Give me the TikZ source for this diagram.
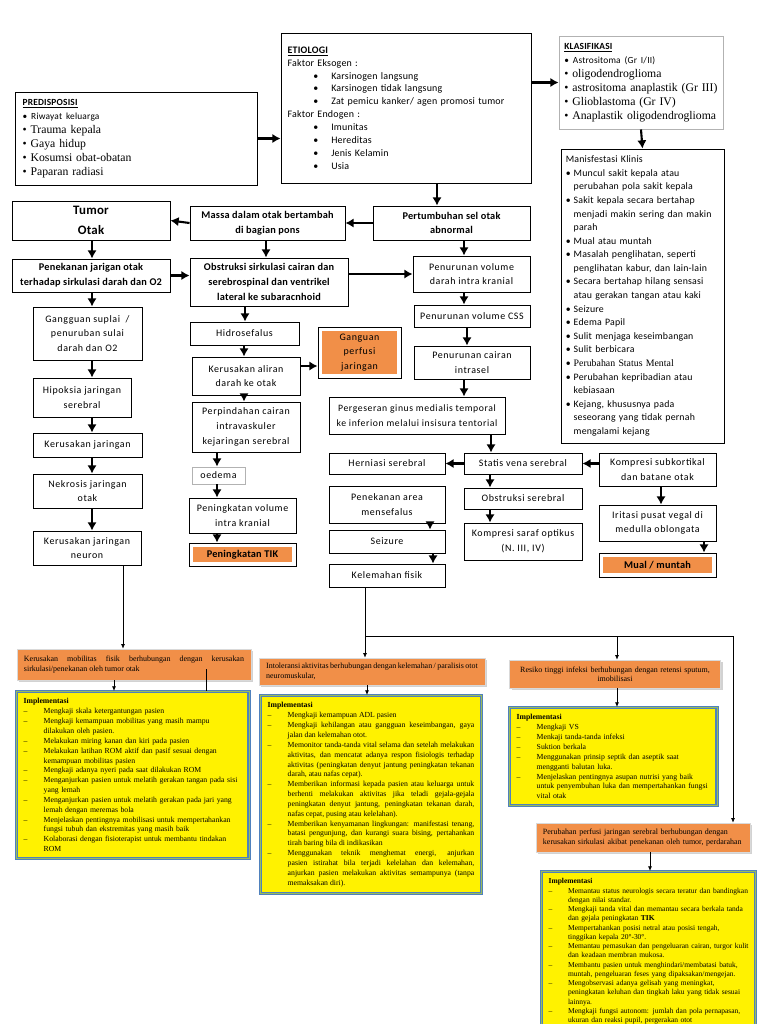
\documentclass[tikz,border=0pt]{standalone}
\usepackage{fontspec}
\setmainfont{Liberation Serif}
\newfontfamily\carl[LetterSpace=6]{Carlito}
\newfontfamily\carlb[LetterSpace=2]{Carlito}
\usetikzlibrary{arrows.meta,shadows}
\definecolor{oranye}{RGB}{241,143,72}
\definecolor{biru}{RGB}{79,129,189}
\definecolor{hijau}{RGB}{155,187,89}
% box from corner (x1,y1) to (x2,y2), in pixels of the page
\newcommand\kotak[7]{\node[#6, minimum width={(#4-#2)*0.03cm}, minimum height={(#5-#3)*0.03cm}] (#1) at ({(#2+#4)/2},{(#3+#5)/2}) {#7};}
\newcommand\bul{\par\hangindent=0.8em\hangafter=1\noindent\makebox[0.8em][l]{\textbullet}}
\newcommand\dsh{\par\hangindent=2.6em\hangafter=1\noindent\makebox[2.6em][l]{--}}
\begin{document}
\hyphenpenalty=10000 \exhyphenpenalty=10000
\begin{tikzpicture}[x=0.03cm,y=-0.03cm,
  kotak/.style={draw, line width=0.8pt, fill=white, inner sep=1pt, align=center, font=\carl\fontsize{8.5}{12.5}\selectfont},
  tebal/.style={kotak, font=\carlb\bfseries\fontsize{8.8}{12.5}\selectfont},
  isi/.style={tebal, path picture={\fill[oranye] ([shift={(3pt,-3pt)}]path picture bounding box.north west) rectangle ([shift={(-3pt,3pt)}]path picture bounding box.south east);}},
  daftar/.style={kotak, align=left, inner sep=4pt},
  masalah/.style={fill=oranye, draw=white!85!black, drop shadow={shadow xshift=2pt, shadow yshift=-2pt, fill=gray!70}, font=\fontsize{6.8}{8}\selectfont, align=justify, inner xsep=6pt},
  impl/.style={fill=yellow, draw=biru, line width=1pt, double=hijau, double distance=0.8pt, font=\fontsize{6.6}{8.4}\selectfont, align=left, inner sep=6pt, anchor=north west},
  panah/.style={-{Latex[length=7pt,width=8pt]}, line width=1.8pt},
  garis/.style={-{Latex[length=4pt,width=3.5pt]}, line width=0.7pt}]
\useasboundingbox (0,0) rectangle (768,1024);

% top row
\kotak{predis}{15}{92}{257}{185}{daftar, text width=6.8cm, font=\fontsize{10}{12}\selectfont}{{\carlb\bfseries\fontsize{8}{10}\selectfont\underline{PREDISPOSISI}}\\
  {\carlb\fontsize{8}{10}\selectfont\textbullet\ Riwayat keluarga}\\ \textbullet\ Trauma kepala\\ \textbullet\ Gaya hidup\\ \textbullet\ Kosumsi obat-obatan\\ \textbullet\ Paparan radiasi}
\kotak{etio}{281}{33}{531}{183}{daftar, text width=7.1cm, font=\carlb\fontsize{8.5}{11}\selectfont}{{\bfseries\underline{ETIOLOGI}}\\ Faktor Eksogen :\\
  \hspace*{22pt}\textbullet\hspace{11pt}Karsinogen langsung\\ \hspace*{22pt}\textbullet\hspace{11pt}Karsinogen tidak langsung\\ \hspace*{22pt}\textbullet\hspace{11pt}Zat pemicu kanker/ agen promosi tumor\\
  Faktor Endogen :\\ \hspace*{22pt}\textbullet\hspace{11pt}Imunitas\\ \hspace*{22pt}\textbullet\hspace{11pt}Hereditas\\ \hspace*{22pt}\textbullet\hspace{11pt}Jenis Kelamin\\ \hspace*{22pt}\textbullet\hspace{11pt}Usia}
\kotak{klas}{559}{36}{723}{129}{daftar, draw=gray!60, text width=4.6cm, font=\fontsize{10}{12}\selectfont}{{\carlb\bfseries\fontsize{8}{10}\selectfont\underline{KLASIFIKASI}}\\
  {\carlb\fontsize{8}{10}\selectfont\textbullet\ Astrositoma (Gr I/II)}\\ \textbullet\ oligodendroglioma\\ \textbullet\ astrositoma anaplastik (Gr III)\\ \textbullet\ Glioblastoma (Gr IV)\\ \textbullet\ Anaplastik oligodendroglioma}
\kotak{manif}{561}{149}{724}{443}{daftar, text width=4.6cm, font=\carlb\fontsize{8.4}{11.6}\selectfont}{Manisfestasi Klinis
  \bul Muncul sakit kepala atau\newline perubahan pola sakit kepala
  \bul Sakit kepala secara bertahap\newline menjadi makin sering dan makin\newline parah
  \bul Mual atau muntah
  \bul Masalah penglihatan, seperti\newline penglihatan kabur, dan lain-lain
  \bul Secara bertahap hilang sensasi\newline atau gerakan tangan atau kaki
  \bul Seizure \bul Edema Papil \bul Sulit menjaga keseimbangan \bul Sulit berbicara
  \bul {\rmfamily Perubahan Status Mental}
  \bul Perubahan kepribadian atau\newline kebiasaan
  \bul Kejang, khususnya pada\newline seseorang yang tidak pernah\newline mengalami kejang\par}

% left column
\kotak{tumor}{12}{201}{170}{240}{tebal, font=\carlb\bfseries\fontsize{11}{17}\selectfont}{Tumor\\ Otak}
\kotak{tekan}{12}{259}{170}{292}{tebal}{Penekanan jarigan otak\\ terhadap sirkulasi darah dan O2}
\kotak{suplai}{33}{307}{142}{360}{kotak}{Gangguan suplai \ /\\ penuruban sulai\\ darah dan O2}
\kotak{hipoksia}{33}{378}{131}{417}{kotak}{Hipoksia jaringan\\ serebral}
\kotak{rusak}{33}{433}{142}{457}{kotak}{Kerusakan jaringan}
\kotak{nekrosis}{33}{474}{142}{508}{kotak}{Nekrosis jaringan\\ otak}
\kotak{neuron}{33}{531}{141}{565}{kotak}{Kerusakan jaringan\\ neuron}

% middle column
\kotak{massa}{190}{206}{345}{240}{tebal}{Massa dalam otak bertambah\\ di bagian pons}
\kotak{obs}{190}{258}{348}{306}{tebal}{Obstruksi sirkulasi cairan dan\\ serebrospinal dan ventrikel\\ lateral ke subaracnhoid}
\kotak{hidro}{190}{322}{299}{345}{kotak}{Hidrosefalus}
\kotak{perfusi}{318}{327}{401}{378}{isi, font=\carl\fontsize{8.5}{12.5}\selectfont}{Ganguan\\ perfusi\\ jaringan}
\kotak{aliran}{192}{357}{300}{395}{kotak}{Kerusakan aliran\\ darah ke otak}
\kotak{pindah}{192}{402}{300}{452}{kotak}{Perpindahan cairan\\ intravaskuler\\ kejaringan serebral}
\kotak{oedema}{192}{467}{245}{484}{kotak, draw=gray!60, align=left}{oedema}
\kotak{volik}{189}{498}{296}{533}{kotak}{Peningkatan volume\\ intra kranial}
\kotak{tik}{189}{543}{296}{566}{isi}{Peningkatan TIK}

% right part
\kotak{tumbuh}{373}{206}{530}{240}{tebal}{Pertumbuhan sel otak\\ abnormal}
\kotak{voldarah}{413}{256}{530}{292}{kotak}{Penurunan volume\\ darah intra kranial}
\kotak{css}{414}{305}{530}{327}{kotak}{Penurunan volume CSS}
\kotak{cairan}{414}{346}{530}{379}{kotak}{Penurunan cairan\\ intrasel}
\kotak{geser}{329}{397}{505}{434}{kotak, font=\carl\fontsize{8.3}{12.5}\selectfont}{Pergeseran ginus medialis temporal\\ ke inferion melalui insisura tentorial}
\kotak{hernia}{329}{453}{445}{474}{kotak}{Herniasi serebral}
\kotak{statis}{464}{453}{582}{474}{kotak}{Statis vena serebral}
\kotak{subkor}{599}{453}{716}{486}{kotak}{Kompresi subkortikal\\ dan batane otak}
\kotak{mensef}{329}{486}{445}{523}{kotak}{Penekanan area\\ mensefalus}
\kotak{obsser}{464}{488}{582}{509}{kotak}{Obstruksi serebral}
\kotak{iritasi}{599}{505}{716}{541}{kotak}{Iritasi pusat vegal di\\ medulla oblongata}
\kotak{seizure}{329}{530}{445}{553}{kotak}{Seizure}
\kotak{optikus}{464}{523}{582}{560}{kotak}{Kompresi saraf optikus\\ (N. III, IV)}
\kotak{mual}{599}{553}{716}{577}{isi}{Mual / muntah}
\kotak{lemah}{329}{564}{445}{587}{kotak}{Kelemahan fisik}

% arrows
\draw[panah] (predis.east) -- (predis.east -| etio.west);
\draw[panah] (etio.east |- klas.west) -- (klas.west);
\draw[panah] (klas.south) -- (manif.north);
\draw[panah] (etio.south -| 437,0) -- (tumbuh.north -| 437,0);
\draw[panah] (tumbuh.west) -- (massa.east);
\draw[panah] (massa.west) -- (tumor.east);
\draw[panah] (tumor.south -| 92,0) -- (tekan.north -| 92,0);
\draw[panah] (massa.south -| 266,0) -- (obs.north -| 266,0);
\draw[panah] (tekan.east) -- (tekan.east -| obs.west);
\draw[panah] (obs.east |- voldarah.west) -- (voldarah.west);
\draw[panah] (tumbuh.south -| 464,0) -- (voldarah.north -| 464,0);
\draw[panah] (voldarah.south -| 464,0) -- (css.north -| 464,0);
\draw[panah] (css.south -| 467,0) -- (cairan.north -| 467,0);
\draw[panah] (cairan.south -| 464,0) -- (geser.north -| 464,0);
\draw[panah] (geser.south -| 491,0) -- (statis.north -| 491,0);
\draw[panah] (statis.west) -- (hernia.east);
\draw[panah] (subkor.west |- statis.east) -- (statis.east);
\draw[panah] (statis.south -| 490,0) -- (obsser.north -| 490,0);
\draw[panah] (obsser.south -| 490,0) -- (optikus.north -| 490,0);
\draw[panah] (subkor.south -| 661,0) -- (iritasi.north -| 661,0);
\draw[panah] (iritasi.south -| 704,0) -- (mual.north -| 704,0);
\draw[panah] (mensef.south -| 430,0) -- (seizure.north -| 430,0);
\draw[panah] (seizure.south -| 433,0) -- (lemah.north -| 433,0);
\foreach \a/\b in {tekan/suplai, suplai/hipoksia, hipoksia/rusak, rusak/nekrosis, nekrosis/neuron}
  \draw[panah] (\a.south -| 92,0) -- (\b.north -| 92,0);
\draw[panah] (obs.south -| 245,0) -- (hidro.north -| 245,0);
\draw[panah] (hidro.south -| 244,0) -- (aliran.north -| 244,0);
\draw[panah] (aliran.east |- 0,366) -- (perfusi.west |- 0,366);
\draw[panah] (aliran.south -| 244,0) -- (pindah.north -| 244,0);
\draw[panah] (pindah.south -| 217,0) -- (oedema.north -| 217,0);
\draw[panah] (oedema.south -| 217,0) -- (volik.north -| 217,0);
\draw[panah] (volik.south -| 217,0) -- (tik.north -| 217,0);

% diagnoses and implementation
\kotak{dx1}{17}{649}{251}{680}{masalah, text width=6.6cm}{Kerusakan mobilitas fisik berhubungan dengan kerusakan sirkulasi/penekanan oleh tumor otak}
\kotak{dx2}{259}{658}{485}{685}{masalah, text width=6.35cm}{Intoleransi aktivitas berhubungan dengan kelemahan / paralisis otot neuromuskular,}
\kotak{dx3}{510}{660}{720}{688}{masalah, align=center, text width=5.9cm}{Resiko tinggi infeksi berhubungan dengan retensi sputum,\\ imobilisasi}
\kotak{dx4}{536}{823}{750}{852}{masalah, align=left, text width=6cm}{Perubahan perfusi jaringan serebral berhubungan dengan kerusakan sirkulasi akibat penekanan oleh tumor, perdarahan}

\node[impl, text width=6.55cm] (imp1) at (16,691) {\textbf{Implementasi}
  \dsh Mengkaji skala ketergantungan pasien
  \dsh Mengkaji kemampuan mobilitas yang masih mampu dilakukan oleh pasien.
  \dsh Melakukan miring kanan dan kiri pada pasien
  \dsh Melakukan latihan ROM aktif dan pasif sesuai dengan kemampuan mobilitas pasien
  \dsh Mengkaji adanya nyeri pada saat dilakukan ROM
  \dsh Menganjurkan pasien untuk melatih gerakan tangan pada sisi yang lemah
  \dsh Menganjurkan pasien untuk melatih gerakan pada jari yang lemah dengan meremas bola
  \dsh Menjelaskan pentingnya mobilisasi untuk mempertahankan fungsi tubuh dan ekstremitas yang masih baik
  \dsh Kolaborasi dengan fisioterapist untuk membantu tindakan ROM\par};
\node[impl, align=justify, text width=6.2cm] (imp2) at (260,695) {\textbf{Implementasi}
  \dsh Mengkaji kemampuan ADL pasien
  \dsh Mengkaji kehilangan atau gangguan keseimbangan, gaya jalan dan kelemahan otot.
  \dsh Memonitor tanda-tanda vital selama dan setelah melakukan aktivitas, dan mencatat adanya respon fisiologis terhadap aktivitas (peningkatan denyut jantung peningkatan tekanan darah, atau nafas cepat).
  \dsh Memberikan informasi kepada pasien atau keluarga untuk berhenti melakukan aktivitas jika teladi gejala-gejala peningkatan denyut jantung, peningkatan tekanan darah, nafas cepat, pusing atau kelelahan).
  \dsh Memberikan kenyamanan lingkungan: manifestasi tenang, batasi pengunjung, dan kurangi suara bising, pertahankan tirah baring bila di indikasikan
  \dsh Menggunakan teknik menghemat energi, anjurkan pasien istirahat bila terjadi kelelahan dan kelemahan, anjurkan pasien melakukan aktivitas semampunya (tanpa memaksakan diri).\par};
\node[impl, text width=5.8cm] (imp3) at (509,707) {\textbf{Implementasi}
  \dsh Mengkaji VS
  \dsh Menkaji tanda-tanda infeksi
  \dsh Suktion berkala
  \dsh Menggunakan prinsip septik dan aseptik saat mengganti balutan luka.
  \dsh Menjelaskan pentingnya asupan nutrisi yang baik untuk penyembuhan luka dan mempertahankan fungsi vital otak\par};
\node[impl, text width=6.0cm, font=\fontsize{6.4}{7.9}\selectfont] (imp4) at (541,871) {\textbf{Implementasi}
  \dsh Memantau status neurologis secara teratur dan bandingkan dengan nilai standar.
  \dsh Mengkaji tanda vital dan memantau secara berkala tanda dan gejala peningkatan \textbf{TIK}
  \dsh Mempertahankan posisi netral atau posisi tengah, tinggikan kepala 20\textdegree-30\textdegree.
  \dsh Memantau pemasukan dan pengeluaran cairan, turgor kulit dan keadaan membran mukosa.
  \dsh Membantu pasien untuk menghindari/membatasi batuk, muntah, pengeluaran feses yang dipaksakan/mengejan.
  \dsh Mengobservasi adanya gelisah yang meningkat, peningkatan keluhan dan tingkah laku yang tidak sesuai lainnya.
  \dsh Mengkaji fungsi autonom: jumlah dan pola pernapasan, ukuran dan reaksi pupil, pergerakan otot\par};

% thin connectors
\coordinate (cabang) at (365,636);
\coordinate (ujung) at (733,636);
\draw[garis] (neuron.south -| 123,0) -- (dx1.north -| 123,0);
\draw[garis] (lemah.south -| cabang) -- (dx2.north -| cabang);
\draw[line width=0.7pt] (cabang) -- (ujung);
\draw[garis] (cabang -| 617,0) -- (dx3.north -| 617,0);
\draw[garis] (ujung) -- (dx4.north -| ujung);
\draw[garis] (dx1.south -| 114,0) -- (imp1.north -| 114,0);
\draw[line width=0.7pt] (206,669) -- (imp1.north -| 206,0);
\draw[garis] (dx2.south -| 367,0) -- (imp2.north -| 367,0);
\draw[garis] (dx3.south -| 617,0) -- (imp3.north -| 617,0);
\draw[garis] (dx4.south -| 650,0) -- (imp4.north -| 650,0);
\end{tikzpicture}
\end{document}
